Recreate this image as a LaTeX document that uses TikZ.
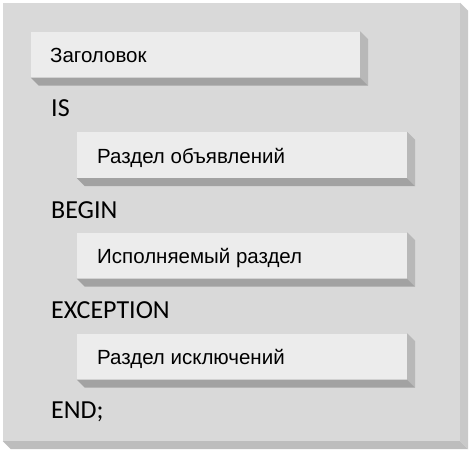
\documentclass[tikz,border=0pt]{standalone}
\usepackage{fontspec}
\setmainfont{Liberation Sans}
\newfontfamily\kwfont{Carlito}
\definecolor{panelface}{HTML}{D9D9D9}
\definecolor{panelright}{HTML}{C9C9C9}
\definecolor{panelbottom}{HTML}{BDBDBD}
\definecolor{boxface}{HTML}{ECECEC}
\definecolor{boxright}{HTML}{B8B8B8}
\definecolor{boxbottom}{HTML}{A2A2A2}
\begin{document}
\begin{tikzpicture}[x=1pt,y=-1pt,
  panelstyle/.style={rectangle,fill=panelface,inner sep=0pt,minimum width=457pt,minimum height=438pt},
  boxstyle/.style={rectangle,fill=boxface,inner sep=0pt,minimum height=46pt},
  boxtext/.style={anchor=base west,inner sep=0pt,font=\fontsize{20.5}{24}\selectfont},
  kwtext/.style={anchor=base west,inner sep=0pt,font=\kwfont\fontsize{26}{30}\selectfont}]
\useasboundingbox (0,0) rectangle (474,456);
\fill[white] (0,0) rectangle (474,456);
% panel
\node[panelstyle] (panel) at (231.5,222) {};
\fill[panelright] (panel.north east) -- ([shift={(8,8)}]panel.north east) -- ([shift={(8,8)}]panel.south east) -- (panel.south east) -- cycle;
\fill[panelbottom] (panel.south west) -- (panel.south east) -- ([shift={(8,8)}]panel.south east) -- ([shift={(8,8)}]panel.south west) -- cycle;
% boxes
\node[boxstyle,minimum width=329pt] (b1) at (195.5,54.5) {};
\node[boxstyle,minimum width=330pt] (b2) at (242,155) {};
\node[boxstyle,minimum width=330pt] (b3) at (242,255.5) {};
\node[boxstyle,minimum width=330pt] (b4) at (242,356.5) {};
\foreach \b in {b1,b2,b3,b4}{
  \fill[boxright] (\b.north east) -- ([shift={(8,8)}]\b.north east) -- ([shift={(8,8)}]\b.south east) -- (\b.south east) -- cycle;
  \fill[boxbottom] (\b.south west) -- (\b.south east) -- ([shift={(8,8)}]\b.south east) -- ([shift={(8,8)}]\b.south west) -- cycle;
}
% texts
\node[boxtext] (t1) at (50,62) {Заголовок};
\node[boxtext] (t2) at (97,163) {Раздел объявлений};
\node[boxtext] (t3) at (97,263) {Исполняемый раздел};
\node[boxtext] (t4) at (97,364) {Раздел исключений};
\node[kwtext] (k1) at (51,116) {IS};
\node[kwtext] (k2) at (51,218) {BEGIN};
\node[kwtext] (k3) at (51,318) {EXCEPTION};
\node[kwtext] (k4) at (51,418) {END;};
\end{tikzpicture}
\end{document}
